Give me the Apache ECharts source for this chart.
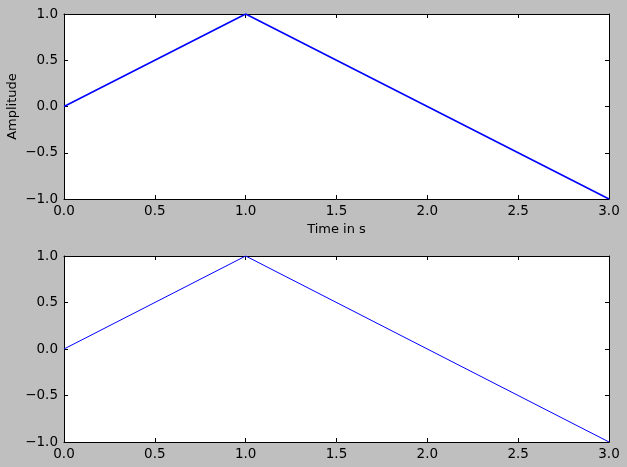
<!DOCTYPE html>
<html><head><meta charset="utf-8">
<script src="https://cdn.jsdelivr.net/npm/echarts@6/dist/echarts.min.js"></script>
<style>html,body{margin:0;padding:0;background:#bfbfbf}#c{width:627px;height:467px}</style>
</head><body><div id="c"></div>
<script>
var timeValues = [0, 1, 3];
var amplitudeValues = [0, 1, -1];
var xTicks = [0, 0.5, 1, 1.5, 2, 2.5, 3];
var yTicks = [-1, -0.5, 0, 0.5, 1];

var chart = echarts.init(document.getElementById('c'), null, {renderer: 'canvas'});
var font = 'DejaVu Sans';
function fmt(v) { return v < 0 ? '\u2212' + (-v).toFixed(1) : v.toFixed(1); }
function xAxisDef(gi, pos, showLabels, name) {
  return {
    type: 'value', gridIndex: gi, position: pos, min: xTicks[0], max: xTicks[xTicks.length - 1], interval: 0.5,
    name: name || '', nameLocation: 'middle', nameGap: 24,
    nameTextStyle: {color: '#000', fontFamily: font, fontSize: 13},
    axisLine: {show: true, onZero: false, lineStyle: {color: '#000', width: 1}},
    axisTick: {show: true, inside: true, length: 4, lineStyle: {color: '#000'}},
    axisLabel: {show: showLabels, color: '#000', fontFamily: font, fontSize: 13.5, margin: 5, formatter: fmt},
    splitLine: {show: false}
  };
}
function yAxisDef(gi, pos, showLabels, name) {
  return {
    type: 'value', gridIndex: gi, position: pos, min: yTicks[0], max: yTicks[yTicks.length - 1], interval: 0.5,
    name: name || '', nameLocation: 'middle', nameGap: 45, nameRotate: 90,
    nameMoveOverlap: false,
    nameTextStyle: {color: '#000', fontFamily: font, fontSize: 13},
    axisLine: {show: true, onZero: false, lineStyle: {color: '#000', width: 1}},
    axisTick: {show: true, inside: true, length: 4, lineStyle: {color: '#000'}},
    axisLabel: {show: showLabels, color: '#000', fontFamily: font, fontSize: 13.5, margin: 6, formatter: fmt},
    splitLine: {show: false}
  };
}
var data = timeValues.map(function (t, i) { return [t, amplitudeValues[i]]; });
chart.setOption({
  backgroundColor: '#bfbfbf',
  animation: false,
  grid: [
    {left: 64, right: 18, top: 14, height: 185, backgroundColor: '#fff', show: true, borderWidth: 0, containLabel: false, outerBoundsMode: 'none'},
    {left: 64, right: 18, top: 256, height: 186, backgroundColor: '#fff', show: true, borderWidth: 0, containLabel: false, outerBoundsMode: 'none'}
  ],
  xAxis: [
    xAxisDef(0, 'bottom', true, 'Time in s'),
    xAxisDef(0, 'top', false),
    xAxisDef(1, 'bottom', true),
    xAxisDef(1, 'top', false)
  ],
  yAxis: [
    yAxisDef(0, 'left', true, 'Amplitude'),
    yAxisDef(0, 'right', false),
    yAxisDef(1, 'left', true),
    yAxisDef(1, 'right', false)
  ],
  series: [
    {type: 'line', xAxisIndex: 0, yAxisIndex: 0, data: data, showSymbol: false, symbol: 'none',
     lineStyle: {color: '#0000ff', width: 1.6}},
    {type: 'line', xAxisIndex: 2, yAxisIndex: 2, data: data, showSymbol: false, symbol: 'none',
     lineStyle: {color: '#0000ff', width: 1}}
  ]
});
</script></body></html>
